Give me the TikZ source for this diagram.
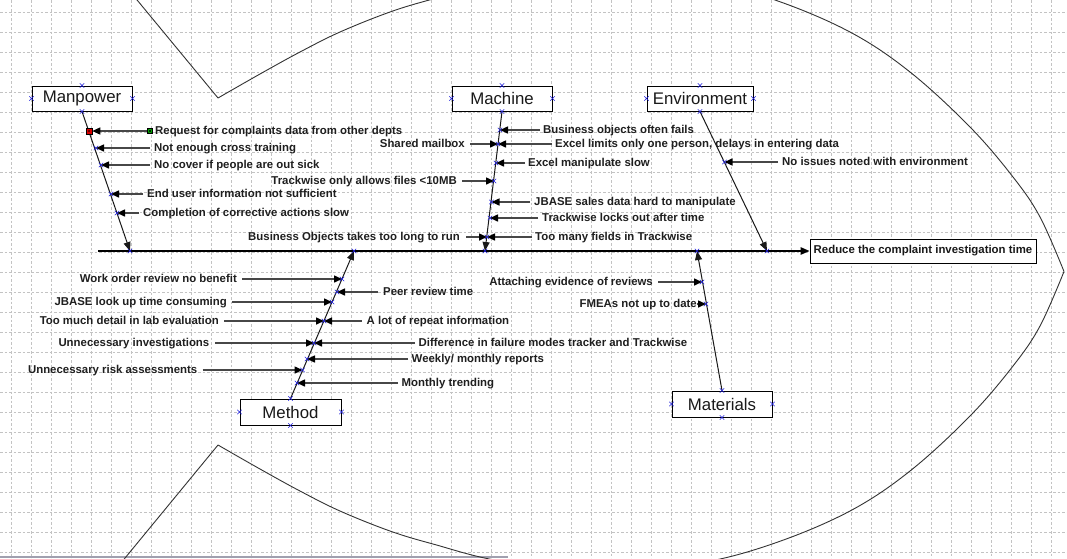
\documentclass[tikz,border=0pt]{standalone}
\usepackage{fontspec}
\setmainfont{Liberation Sans}
\usetikzlibrary{arrows.meta,calc}
\newcommand{\lblf}{\bfseries\fontsize{11.4}{13}\selectfont}
\definecolor{cpblue}{RGB}{30,30,220}
\definecolor{pagegray}{RGB}{160,160,175}
\definecolor{gridc}{RGB}{195,195,195}
\begin{document}
\begin{tikzpicture}[x=1pt,y=-1pt,
  gridl/.style={draw=gridc, line width=0.8pt, dash pattern=on 2.5pt off 2pt},
  fishl/.style={draw=black!80, line width=0.9pt},
  catbox/.style={draw=black, line width=1pt, fill=white, minimum height=25pt, inner sep=0pt, font=\fontsize{16.8}{18}\selectfont, text=black!90},
  effbox/.style={draw=black, line width=1pt, fill=white, minimum width=226pt, minimum height=24pt, inner sep=0pt, font=\lblf, text=black!90},
  lblR/.style={anchor=west, inner sep=0pt, font=\lblf, text=black!88, text height=8pt, text depth=1pt},
  lblL/.style={lblR, anchor=east},
  spine/.style={draw=black, line width=1.4pt, -{Triangle[length=9pt,width=7.5pt]}},
  bone/.style={draw=black!90, line width=1pt, -{Triangle[length=9pt,width=7pt]}},
  arr/.style={draw=black!72, line width=1.5pt, -{Triangle[length=8pt,width=7pt,fill=black,color=black]}},
  cpx/.pic={\draw[draw=cpblue, line width=0.6pt] (-2.2,-2.2)--(2.2,2.2) (-2.2,2.2)--(2.2,-2.2);}
]
\useasboundingbox (0,0) rectangle (1067,558);
\fill[white] (0,0) rectangle (1067,558);
% grid
\foreach \x in {11,31,...,1051} \draw[gridl] (\x,0) -- (\x,558);
\foreach \y in {12,32,...,552} \draw[gridl] (0,\y) -- (1067,\y);
\draw[draw=pagegray, line width=1.6pt] (0,557) -- (508,557);
% fish outline
\begin{scope}
\clip (0,0) rectangle (1067,558);
\draw[fishl] (128,-11) -- (218,98);
\draw[fishl] plot[smooth,tension=0.6] coordinates {(218,98) (260,74) (300,52) (340,32) (390,12) (433,-1) (500,-18) (604,-30) (700,-20) (775,0) (850,32) (910,72) (970,127) (1013,177) (1040,217) (1064,271.5)};
\draw[fishl] (116,569) -- (218,445);
\draw[fishl] plot[smooth,tension=0.6] coordinates {(218,445) (260,469) (300,491) (340,511) (390,531) (433,544) (500,561) (604,573) (700,563) (775,543) (850,511) (910,471) (970,416) (1013,366) (1040,326) (1064,271.5)};
\end{scope}
% boxes
\node[catbox, minimum width=100pt] (mp) at (82,98.5) {Manpower};
\node[catbox, minimum width=100pt] (ma) at (502,98.5) {Machine};
\node[catbox, minimum width=106pt] (en) at (700,98.5) {Environment};
\node[catbox, minimum width=101pt, minimum height=26pt] (me) at (290.5,412) {Method};
\node[catbox, minimum width=100pt, minimum height=26pt] (mt) at (722,404) {Materials};
\node[effbox] (eff) at (923,251) {Reduce the complaint investigation time};
% spine and bones
\coordinate (spL) at (98,251);
\coordinate (mpS) at (130,251);
\coordinate (maS) at (485,251);
\coordinate (enS) at (767,251);
\coordinate (meS) at (354,251);
\coordinate (mtS) at (697,251);
\draw[spine] (spL) -- (eff.west);
\draw[bone] (mp.south) -- (mpS);
\draw[bone] (ma.south) -- (maS);
\draw[bone] (en.south) -- (enS);
\draw[bone] (me.north) -- (meS);
\draw[bone] (mt.north) -- (mtS);
% ---- Manpower causes
\node[draw=black, line width=0.6pt, fill=red!85!black, minimum size=6pt, inner sep=0pt] (rsq) at (89,131) {};
\node[draw=black, line width=0.6pt, fill=green!75!black, minimum size=5pt, inner sep=0pt] (gsq) at (150,131) {};
\node[lblR] (l1) at (155,131) {Request for complaints data from other depts};
\draw[arr] (gsq) -- (rsq);
\coordinate (t2) at (96,148);
\node[lblR] (l2) at (154,148) {Not enough cross training};
\draw[arr] ([xshift=-4pt]l2.west) -- (t2);
\coordinate (t3) at (101,165);
\node[lblR] (l3) at (154,165) {No cover if people are out sick};
\draw[arr] ([xshift=-4pt]l3.west) -- (t3);
\coordinate (t4) at (111,194);
\node[lblR] (l4) at (147,194) {End user information not sufficient};
\draw[arr] ([xshift=-4pt]l4.west) -- (t4);
\coordinate (t5) at (117,213);
\node[lblR] (l5) at (143,213) {Completion of corrective actions slow};
\draw[arr] ([xshift=-4pt]l5.west) -- (t5);
% ---- Machine causes
\coordinate (t6) at (500,130);
\node[lblR] (l6) at (543,130) {Business objects often fails};
\draw[arr] ([xshift=-3pt]l6.west) -- (t6);
\coordinate (t7) at (498,144);
\node[lblL] (l7) at (465,144) {Shared mailbox};
\draw[arr] ([xshift=5pt]l7.east) -- (t7);
\node[lblR] (l8) at (555,144) {Excel limits only one person, delays in entering data};
\draw[arr] ([xshift=-3pt]l8.west) -- (t7);
\coordinate (t9) at (496,163);
\node[lblR] (l9) at (528,163) {Excel manipulate slow};
\draw[arr] ([xshift=-3pt]l9.west) -- (t9);
\coordinate (t10) at (494,181);
\node[lblL] (l10) at (457,181) {Trackwise only allows files <10MB};
\draw[arr] ([xshift=5pt]l10.east) -- (t10);
\coordinate (t11) at (491.5,202);
\node[lblR] (l11) at (534,202) {JBASE sales data hard to manipulate};
\draw[arr] ([xshift=-4pt]l11.west) -- (t11);
\coordinate (t12) at (490,218);
\node[lblR] (l12) at (542,218) {Trackwise locks out after time};
\draw[arr] ([xshift=-4pt]l12.west) -- (t12);
\coordinate (t13) at (487,237);
\node[lblR] (l13) at (535,237) {Too many fields in Trackwise};
\draw[arr] ([xshift=-3pt]l13.west) -- (t13);
\node[lblL] (l14) at (460,237) {Business Objects takes too long to run};
\draw[arr] ([xshift=6pt]l14.east) -- (t13);
% ---- Environment cause
\coordinate (t15) at (724.5,162);
\node[lblR] (l15) at (782,162) {No issues noted with environment};
\draw[arr] ([xshift=-4pt]l15.west) -- (t15);
% ---- Method causes
\coordinate (t16) at (342,279);
\node[lblL] (l16) at (237,279) {Work order review no benefit};
\draw[arr] ([xshift=5pt]l16.east) -- (t16);
\coordinate (t17) at (332,302);
\node[lblL] (l17) at (227,302) {JBASE look up time consuming};
\draw[arr] ([xshift=5pt]l17.east) -- (t17);
\coordinate (t18) at (324,321);
\node[lblL] (l18) at (219,321) {Too much detail in lab evaluation};
\draw[arr] ([xshift=5pt]l18.east) -- (t18);
\coordinate (t19) at (314,343);
\node[lblL] (l19) at (209.5,343) {Unnecessary investigations};
\draw[arr] ([xshift=5.5pt]l19.east) -- (t19);
\coordinate (t20) at (302.5,370);
\node[lblL] (l20) at (197.5,370) {Unnecessary risk assessments};
\draw[arr] ([xshift=5pt]l20.east) -- (t20);
\coordinate (t21) at (337,292);
\node[lblR] (l21) at (383,292) {Peer review time};
\draw[arr] ([xshift=-5pt]l21.west) -- (t21);
\node[lblR] (l22) at (366.5,321) {A lot of repeat information};
\draw[arr] ([xshift=-5pt]l22.west) -- (t18);
\node[lblR] (l23) at (418.5,343) {Difference in failure modes tracker and Trackwise};
\draw[arr] ([xshift=-3.5pt]l23.west) -- (t19);
\coordinate (t24) at (307,359);
\node[lblR] (l24) at (411.5,359) {Weekly/ monthly reports};
\draw[arr] ([xshift=-3.5pt]l24.west) -- (t24);
\coordinate (t25) at (297,383);
\node[lblR] (l25) at (401.5,383) {Monthly trending};
\draw[arr] ([xshift=-3.5pt]l25.west) -- (t25);
% ---- Materials causes
\coordinate (t26) at (702,282);
\node[lblL] (l26) at (653,282) {Attaching evidence of reviews};
\draw[arr] ([xshift=5pt]l26.east) -- (t26);
\coordinate (t27) at (706,304);
\node[lblL] (l27) at (697,304) {FMEAs not up to date};
\draw[arr] (l27.east) -- (t27);
% ---- connection point markers
\foreach \b in {mp,ma,en,me,mt} \foreach \a in {north,south,east,west} \pic at (\b.\a) {cpx};
\foreach \s in {mpS,maS,enS,meS,mtS} \pic at (\s) {cpx};
\foreach \t in {t2,t3,t4,t5,t6,t7,t9,t10,t11,t12,t13,t15,t16,t17,t18,t19,t20,t21,t24,t25,t26,t27} \pic at (\t) {cpx};
\draw[black, line width=0.5pt] ($(gsq)+(-1.5,-1.5)$) -- ($(gsq)+(1.5,1.5)$) ($(gsq)+(-1.5,1.5)$) -- ($(gsq)+(1.5,-1.5)$);
\fill[black] (rsq) circle (0.9);
\end{tikzpicture}
\end{document}
